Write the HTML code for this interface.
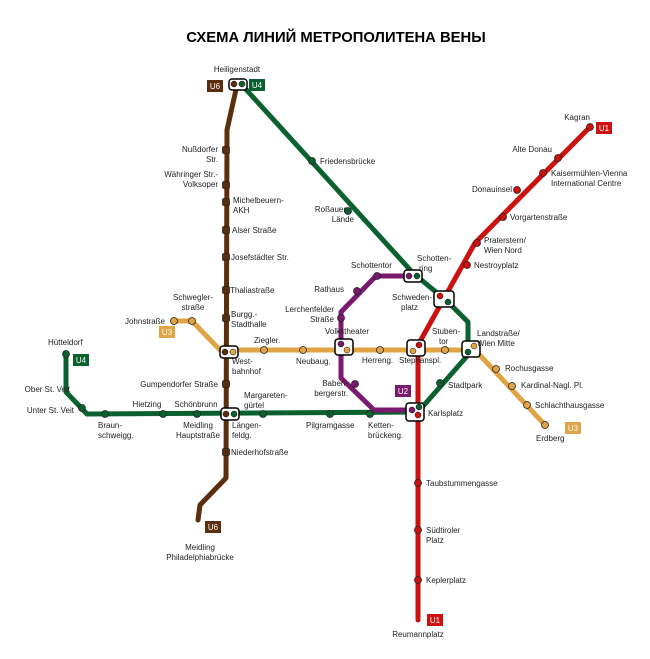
<!DOCTYPE html>
<html><head><meta charset="utf-8"><style>
body{margin:0;background:#fff}
svg text{font-family:"Liberation Sans",sans-serif;font-size:8px;fill:#222}
</style></head><body>
<svg width="650" height="654" viewBox="0 0 650 654" xmlns="http://www.w3.org/2000/svg">
<text x="336" y="42" text-anchor="middle" style="font-size:14.8px;font-weight:bold;fill:#000">СХЕМА ЛИНИЙ МЕТРОПОЛИТЕНА ВЕНЫ</text>
<g fill="none" stroke-width="5" stroke-linejoin="round" stroke-linecap="round">
<polyline stroke="#5c2e0e" points="237,85 227,130 226,478 200,505 198,520"/>
<polyline stroke="#0b6030" points="242,85 413,273 448,302 468,322 468,355 418,412 87,414 66,392 66,354"/>
<polyline stroke="#e0a445" points="174,321 192,321 220,350 475,350 545,425"/>
<polyline stroke="#7a1a6e" points="410,276 376,276 341,312 341,378 374,410 418,410"/>
<polyline stroke="#cc1111" points="590,127 475,243 418,345 418,620"/>
</g>
<g stroke="#222" stroke-width="0.8">
<g fill="#5c2e0e"><rect x="222.5" y="146.5" width="7" height="7" rx="1.5"/><rect x="222.5" y="181.5" width="7" height="7" rx="1.5"/><rect x="222.5" y="198.5" width="7" height="7" rx="1.5"/><rect x="222.5" y="226.5" width="7" height="7" rx="1.5"/><rect x="222.5" y="253.5" width="7" height="7" rx="1.5"/><rect x="222.5" y="286.5" width="7" height="7" rx="1.5"/><rect x="222.5" y="314.5" width="7" height="7" rx="1.5"/><rect x="222.5" y="380.5" width="7" height="7" rx="1.5"/><rect x="222.5" y="448.5" width="7" height="7" rx="1.5"/></g>
<g fill="#0b6030"><circle cx="312" cy="161" r="3.5"/><circle cx="348" cy="211" r="3.5"/><circle cx="440" cy="383" r="3.5"/><circle cx="330" cy="414" r="3.5"/><circle cx="370" cy="414" r="3.5"/><circle cx="263" cy="414" r="3.5"/><circle cx="197" cy="414" r="3.5"/><circle cx="163" cy="414" r="3.5"/><circle cx="105" cy="414" r="3.5"/><circle cx="82" cy="408" r="3.5"/><circle cx="66" cy="354" r="3.5"/></g>
<g fill="#e0a445"><circle cx="174" cy="321" r="3.5"/><circle cx="192" cy="321" r="3.5"/><circle cx="264" cy="350" r="3.5"/><circle cx="303" cy="350" r="3.5"/><circle cx="380" cy="350" r="3.5"/><circle cx="445" cy="350" r="3.5"/><circle cx="496" cy="369" r="3.5"/><circle cx="512" cy="386" r="3.5"/><circle cx="527" cy="405" r="3.5"/><circle cx="545" cy="425" r="3.5"/></g>
<g fill="#7a1a6e"><circle cx="377" cy="276" r="3.5"/><circle cx="357" cy="291" r="3.5"/><circle cx="341" cy="318" r="3.5"/><circle cx="355" cy="384" r="3.5"/></g>
<g fill="#cc1111"><circle cx="590" cy="127" r="3.5"/><circle cx="558" cy="158" r="3.5"/><circle cx="543" cy="173" r="3.5"/><circle cx="517" cy="190" r="3.5"/><circle cx="503" cy="217" r="3.5"/><circle cx="477" cy="243" r="3.5"/><circle cx="467" cy="265" r="3.5"/><circle cx="418" cy="483" r="3.5"/><circle cx="418" cy="530" r="3.5"/><circle cx="418" cy="580" r="3.5"/></g>
</g>
<g fill="#fff" stroke="#000" stroke-width="1.5">
<rect x="229" y="79" width="18" height="11" rx="3"/>
<rect x="220" y="346" width="18" height="12" rx="3"/>
<rect x="221" y="408" width="18" height="12" rx="3"/>
<rect x="404" y="270" width="18" height="12" rx="3"/>
<rect x="434" y="291" width="20" height="16" rx="3"/>
<rect x="335" y="339" width="18" height="16" rx="3"/>
<rect x="407" y="340" width="18" height="16" rx="3"/>
<rect x="462" y="341" width="18" height="16" rx="3"/>
<rect x="406" y="403" width="18" height="18" rx="3"/>
</g>
<g stroke="#000" stroke-width="0.5">
<circle cx="234" cy="84" r="3" fill="#5c2e0e"/><circle cx="242" cy="84" r="3" fill="#0b6030"/>
<circle cx="225" cy="352" r="3" fill="#5c2e0e"/><circle cx="233" cy="352" r="3" fill="#e0a445"/>
<circle cx="226" cy="414" r="3" fill="#5c2e0e"/><circle cx="234" cy="414" r="3" fill="#0b6030"/>
<circle cx="409" cy="276" r="3" fill="#7a1a6e"/><circle cx="417" cy="276" r="3" fill="#0b6030"/>
<circle cx="440" cy="296" r="3" fill="#cc1111"/><circle cx="448" cy="302" r="3" fill="#0b6030"/>
<circle cx="341" cy="344" r="3" fill="#7a1a6e"/><circle cx="347" cy="350" r="3" fill="#e0a445"/>
<circle cx="419" cy="345" r="3" fill="#cc1111"/><circle cx="413" cy="351" r="3" fill="#e0a445"/>
<circle cx="474" cy="346" r="3" fill="#e0a445"/><circle cx="468" cy="352" r="3" fill="#0b6030"/>
<circle cx="412" cy="410" r="3" fill="#7a1a6e"/><circle cx="419" cy="407" r="3" fill="#0b6030"/><circle cx="418" cy="415" r="3" fill="#cc1111"/>
</g>
<g style="font-size:9px">
<rect x="207" y="80" width="16" height="12" fill="#5c2e0e"/><text x="215" y="89" text-anchor="middle" style="fill:#fff">U6</text>
<rect x="249" y="79" width="16" height="12" fill="#0b6030"/><text x="257" y="88" text-anchor="middle" style="fill:#fff">U4</text>
<rect x="205" y="521" width="16" height="12" fill="#5c2e0e"/><text x="213" y="530" text-anchor="middle" style="fill:#fff">U6</text>
<rect x="73" y="354" width="16" height="12" fill="#0b6030"/><text x="81" y="363" text-anchor="middle" style="fill:#fff">U4</text>
<rect x="159" y="326" width="16" height="12" fill="#e0a445"/><text x="167" y="335" text-anchor="middle" style="fill:#fff">U3</text>
<rect x="565" y="422" width="16" height="12" fill="#e0a445"/><text x="573" y="431" text-anchor="middle" style="fill:#fff">U3</text>
<rect x="395" y="385" width="16" height="12" fill="#7a1a6e"/><text x="403" y="394" text-anchor="middle" style="fill:#fff">U2</text>
<rect x="596" y="122" width="16" height="12" fill="#cc1111"/><text x="604" y="131" text-anchor="middle" style="fill:#fff">U1</text>
<rect x="427" y="614" width="16" height="12" fill="#cc1111"/><text x="435" y="623" text-anchor="middle" style="fill:#fff">U1</text>
</g>
<text x="237" y="72" text-anchor="middle">Heiligenstadt</text>
<text x="218" y="152" text-anchor="end">Nußdorfer</text><text x="218" y="162" text-anchor="end">Str.</text>
<text x="218" y="177" text-anchor="end">Währinger Str.-</text><text x="218" y="187" text-anchor="end">Volksoper</text>
<text x="233" y="203">Michelbeuern-</text><text x="233" y="213">AKH</text>
<text x="232" y="233">Alser Straße</text>
<text x="231" y="260">Josefstädter Str.</text>
<text x="230" y="293">Thaliastraße</text>
<text x="231" y="317">Burgg.-</text><text x="231" y="327">Stadthalle</text>
<text x="193" y="300" text-anchor="middle">Schwegler-</text><text x="193" y="310" text-anchor="middle">straße</text>
<text x="165" y="324" text-anchor="end">Johnstraße</text>
<text x="254" y="343">Ziegler.</text>
<text x="232" y="364">West-</text><text x="232" y="374">bahnhof</text>
<text x="296" y="364">Neubaug.</text>
<text x="218" y="387" text-anchor="end">Gumpendorfer Straße</text>
<text x="244" y="398">Margareten-</text><text x="244" y="408">gürtel</text>
<text x="232" y="428">Längen-</text><text x="232" y="438">feldg.</text>
<text x="231" y="455">Niederhofstraße</text>
<text x="200" y="550" text-anchor="middle">Meidling</text><text x="200" y="560" text-anchor="middle">Philadelphiabrücke</text>
<text x="320" y="164">Friedensbrücke</text>
<text x="346" y="212" text-anchor="end">Roßauer</text><text x="354" y="222" text-anchor="end">Lände</text>
<text x="351" y="268">Schottentor</text>
<text x="417" y="261">Schotten-</text><text x="419" y="271">ring</text>
<text x="344" y="292" text-anchor="end">Rathaus</text>
<text x="334" y="312" text-anchor="end">Lerchenfelder</text><text x="334" y="322" text-anchor="end">Straße</text>
<text x="325" y="334">Volkstheater</text>
<text x="392" y="300">Schweden-</text><text x="401" y="310">platz</text>
<text x="432" y="334">Stuben-</text><text x="439" y="344">tor</text>
<text x="362" y="363">Herreng.</text>
<text x="399" y="363">Stephanspl.</text>
<text x="477" y="336">Landstraße/</text><text x="477" y="346">Wien Mitte</text>
<text x="505" y="371">Rochusgasse</text>
<text x="521" y="388">Kardinal-Nagl. Pl.</text>
<text x="535" y="408">Schlachthausgasse</text>
<text x="536" y="441">Erdberg</text>
<text x="448" y="388">Stadtpark</text>
<text x="428" y="416">Karlsplatz</text>
<text x="348" y="386" text-anchor="end">Baben-</text><text x="348" y="396" text-anchor="end">bergerstr.</text>
<text x="306" y="428">Pilgramgasse</text>
<text x="368" y="428">Ketten-</text><text x="368" y="438">brückeng.</text>
<text x="198" y="428" text-anchor="middle">Meidling</text><text x="198" y="438" text-anchor="middle">Hauptstraße</text>
<text x="147" y="407" text-anchor="middle">Hietzing</text>
<text x="196" y="407" text-anchor="middle">Schönbrunn</text>
<text x="98" y="428">Braun-</text><text x="98" y="438">schweigg.</text>
<text x="70" y="392" text-anchor="end">Ober St. Veit</text>
<text x="74" y="413" text-anchor="end">Unter St. Veit</text>
<text x="48" y="345">Hütteldorf</text>
<text x="590" y="120" text-anchor="end">Kagran</text>
<text x="552" y="152" text-anchor="end">Alte Donau</text>
<text x="551" y="176">Kaisermühlen-Vienna</text><text x="551" y="186">International Centre</text>
<text x="512" y="192" text-anchor="end">Donauinsel</text>
<text x="510" y="220">Vorgartenstraße</text>
<text x="484" y="243">Praterstern/</text><text x="484" y="253">Wien Nord</text>
<text x="474" y="268">Nestroyplatz</text>
<text x="426" y="486">Taubstummengasse</text>
<text x="426" y="533">Südtiroler</text><text x="426" y="543">Platz</text>
<text x="426" y="583">Keplerplatz</text>
<text x="418" y="637" text-anchor="middle">Reumannplatz</text>
</svg>
</body></html>
